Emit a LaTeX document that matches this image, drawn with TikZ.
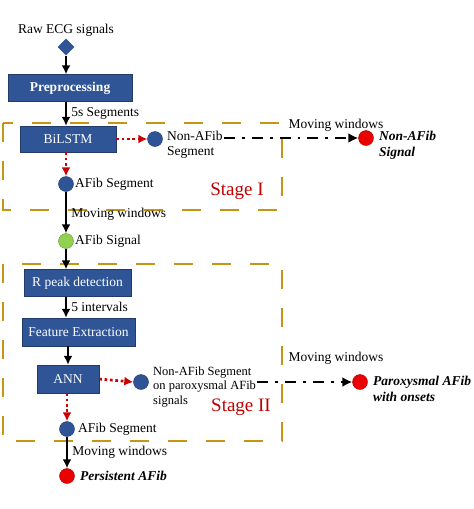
\documentclass[tikz,border=0pt]{standalone}
\usepackage{fontspec}
\setmainfont{Liberation Serif}
\usetikzlibrary{shapes.geometric,arrows.meta}

\definecolor{boxblue}{RGB}{47,85,151}
\definecolor{dotblue}{RGB}{46,84,150}
\definecolor{sigred}{RGB}{235,0,0}
\definecolor{siggreen}{RGB}{146,208,80}
\definecolor{stagegold}{RGB}{196,150,20}
\definecolor{stagered}{RGB}{192,0,0}

\begin{document}
\begin{tikzpicture}[x=1pt,y=-1pt,font=\fontsize{13.5}{15.5}\selectfont]
	\tikzset{%
		blk/.style={draw=boxblue!70!black,fill=boxblue,text=white,minimum height=27pt,inner sep=1pt},
		dotnode/.style={circle,draw=#1!70!black,fill=#1,minimum width=15pt,minimum height=14pt,inner sep=0pt},
		flow/.style={-{Latex[length=9pt,width=9pt]},line width=2.7pt},
		redflow/.style={-{Latex[length=9pt,width=9pt]},red!80!black,line width=2.7pt,dash pattern=on 2.7pt off 2.7pt},
		movewin/.style={-{Latex[length=10pt,width=10pt]},line width=2.8pt,dash pattern=on 11pt off 7pt on 2.8pt off 7pt},
		stagebox/.style={stagegold,line width=2.6pt,dash pattern=on 19pt off 19pt},
		stagelbl/.style={text=stagered,font=\fontsize{19}{21}\selectfont},
		txt/.style={anchor=west,inner sep=1pt},
		res/.style={anchor=west,align=left,inner sep=1pt,font=\fontsize{13.5}{15.5}\selectfont\bfseries\itshape},
	}

	\useasboundingbox (0,0) rectangle (474,509);

	% stages
	\draw [stagebox] (3,123) rectangle (282,210);
	\draw [stagebox] (3,264) rectangle (282,441);
	\node [stagelbl] (stageI) at (237,191) {Stage I};
	\node [stagelbl] (stageII) at (241,407) {Stage II};

	% input and preprocessing
	\node (rawlbl) at (66,30) {Raw ECG signals};
	\node [diamond,fill=boxblue,minimum size=17pt,inner sep=0pt] (raw) at (66,47) {};
	\node [blk,minimum width=124pt,font=\fontsize{13.5}{15.5}\selectfont\bfseries] (pre) at (70,88) {Preprocessing};
	\draw [flow] (raw.south) -- (raw |- pre.north);

	% stage I
	\node [blk,minimum width=96pt,minimum height=26pt] (bilstm) at (68,139) {BiLSTM};
	\draw [flow] (raw |- pre.south) -- (raw |- bilstm.north) node [midway,txt,xshift=3pt] {5s Segments};

	\node [dotnode=dotblue] (nseg) at (155,139) {};
	\node [txt,align=left] (nseglbl) at (166,145) {Non-AFib\\Segment};
	\draw [redflow] (bilstm.east) -- (nseg.west);

	\node [dotnode=sigred] (nsig) at (366,138) {};
	\node [res] (nsiglbl) at (378,145) {Non-AFib\\Signal};
	\draw [movewin] (nseglbl.east |- nsig.west) -- (nsig.west);
	\node (mw1) at (336,125) {Moving windows};

	\node [dotnode=dotblue] (aseg) at (66,184) {};
	\node [txt] (aseglbl) at (74,184) {AFib Segment};
	\draw [redflow] (bilstm.south -| aseg) -- (aseg.north);

	\node [dotnode=siggreen] (asig) at (66,241) {};
	\node [txt] (asiglbl) at (74,241) {AFib Signal};
	\draw [flow] (aseg.south) -- (asig.north) node [pos=0.55,txt,xshift=3pt] {Moving windows};

	% stage II
	\node [blk,minimum width=107pt] (rpeak) at (77.5,283) {R peak detection};
	\draw [flow] (asig.south) -- (asig |- rpeak.north);

	\node [blk,minimum width=113pt,minimum height=28pt] (feat) at (78.5,332) {Feature Extraction};
	\draw [flow] (rpeak.south -| asig) -- (feat.north -| asig) node [midway,txt,xshift=3pt] {5 intervals};

	\node [blk,minimum width=62pt,minimum height=28pt] (ann) at (68,379) {ANN};
	\draw [flow] (feat.south -| ann) -- (ann.north);

	\node [dotnode=dotblue] (pseg) at (141,382) {};
	\node [txt,align=left,font=\fontsize{12.5}{14.5}\selectfont] (pseglbl) at (152,387) {Non-AFib Segment\\on paroxysmal AFib\\signals};
	\draw [redflow] (ann.east) -- (pseg.west);

	\node [dotnode=sigred] (parox) at (360,382) {};
	\node [res] (paroxlbl) at (372,389) {Paroxysmal AFib\\with onsets};
	\draw [movewin] (pseglbl.east |- parox.west) -- (parox.west);
	\node (mw2) at (336,358) {Moving windows};

	\node [dotnode=dotblue] (aseg2) at (67,429) {};
	\node [txt] (aseg2lbl) at (77,429) {AFib Segment};
	\draw [redflow] (ann.south -| aseg2) -- (aseg2.north);

	\node [dotnode=sigred] (pers) at (67,476) {};
	\node [res] (perslbl) at (79,476) {Persistent AFib};
	\draw [flow] (aseg2.south) -- (pers.north) node [pos=0.5,txt,xshift=3pt] {Moving windows};
\end{tikzpicture}
\end{document}
